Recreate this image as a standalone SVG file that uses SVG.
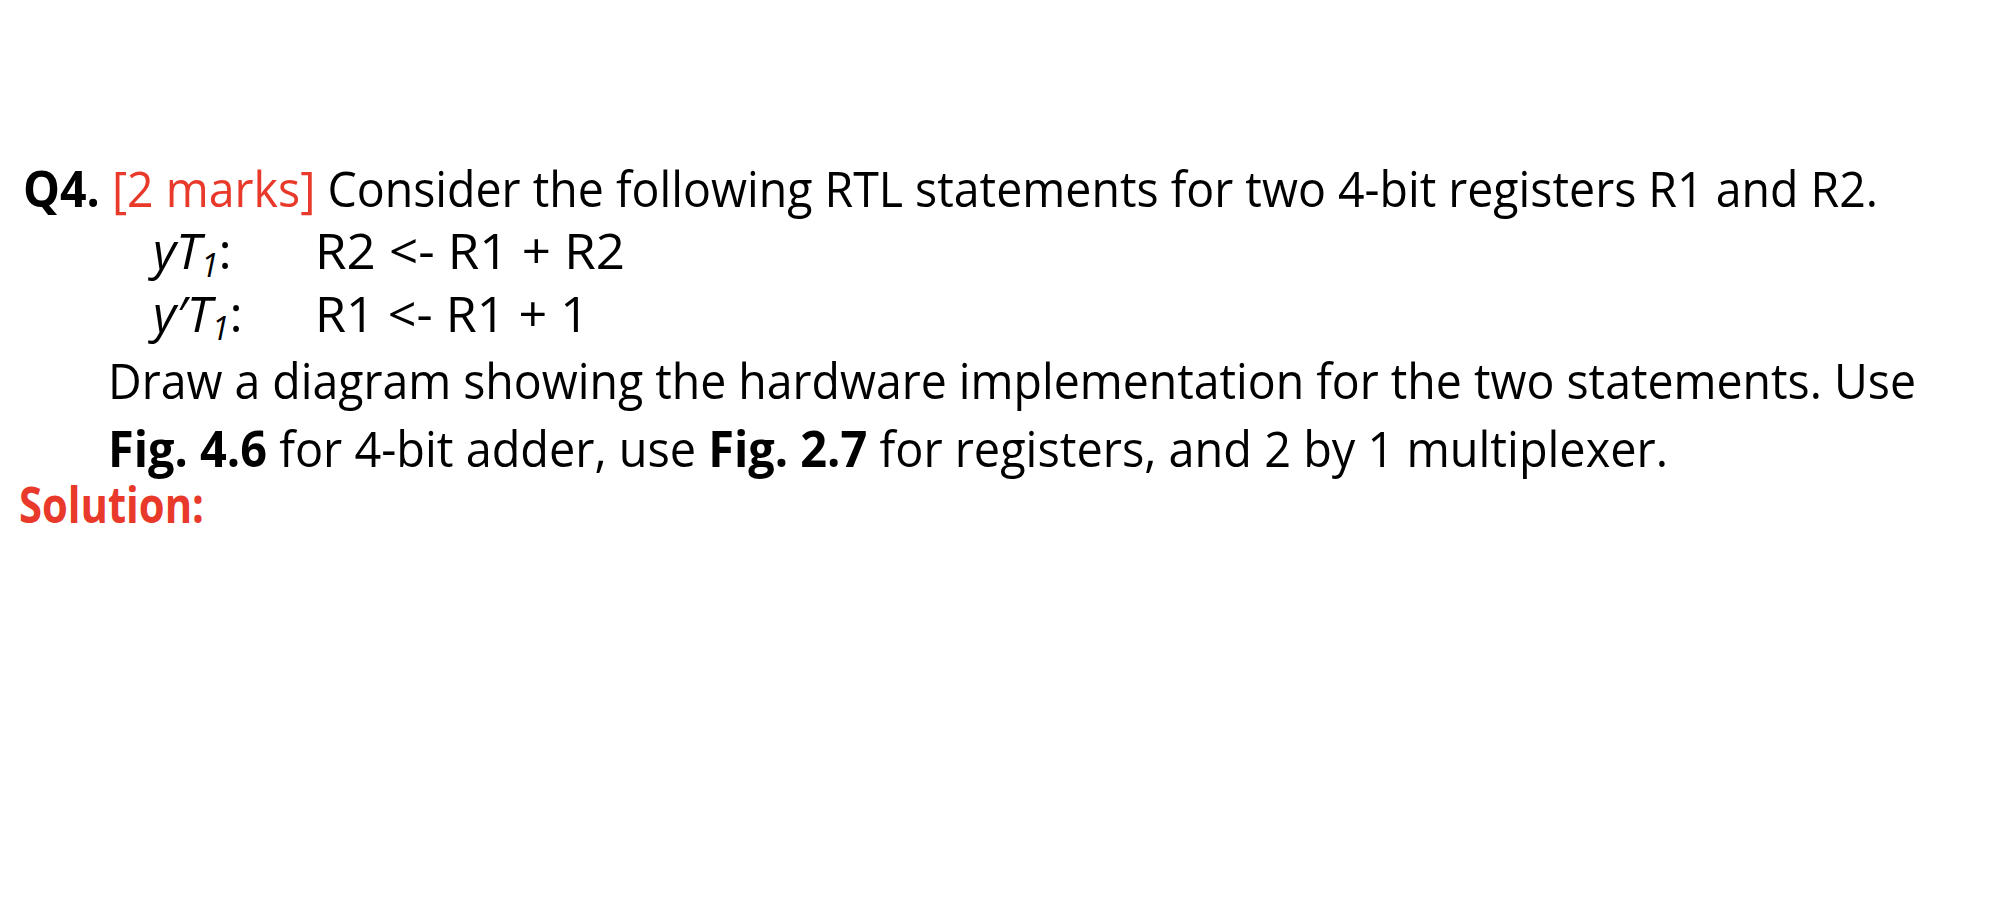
<svg xmlns="http://www.w3.org/2000/svg" width="2000" height="924" viewBox="0 0 2000 924">
<style>
text{font-family:"Open Sans","Liberation Sans",sans-serif;font-size:50px;fill:#000}
.b{font-weight:bold}.r{fill:#e8392a}.i{font-style:italic}
</style>
<rect width="2000" height="924" fill="#fff"/>
<text x="23" y="207" textLength="1855" lengthAdjust="spacingAndGlyphs"><tspan class="b">Q4.</tspan> <tspan class="r">[2 marks]</tspan> Consider the following RTL statements for two 4-bit registers R1 and R2.</text>
<text x="153" y="269"><tspan class="i">yT</tspan><tspan class="i" font-size="32" dy="8">1</tspan><tspan dy="-8">:</tspan></text>
<text x="315" y="269" textLength="310" lengthAdjust="spacingAndGlyphs">R2 &lt;- R1 + R2</text>
<text x="153" y="332"><tspan class="i">y′T</tspan><tspan class="i" font-size="32" dy="8">1</tspan><tspan dy="-8">:</tspan></text>
<text x="315" y="332" textLength="274" lengthAdjust="spacingAndGlyphs">R1 &lt;- R1 + 1</text>
<text x="108" y="399" textLength="1808" lengthAdjust="spacingAndGlyphs">Draw a diagram showing the hardware implementation for the two statements. Use</text>
<text x="108" y="467" textLength="1560" lengthAdjust="spacingAndGlyphs"><tspan class="b">Fig. 4.6</tspan> for 4-bit adder, use <tspan class="b">Fig. 2.7</tspan> for registers, and 2 by 1 multiplexer.</text>
<text x="19" y="523" class="b r" font-size="42" textLength="185" lengthAdjust="spacingAndGlyphs">Solution:</text>
</svg>
